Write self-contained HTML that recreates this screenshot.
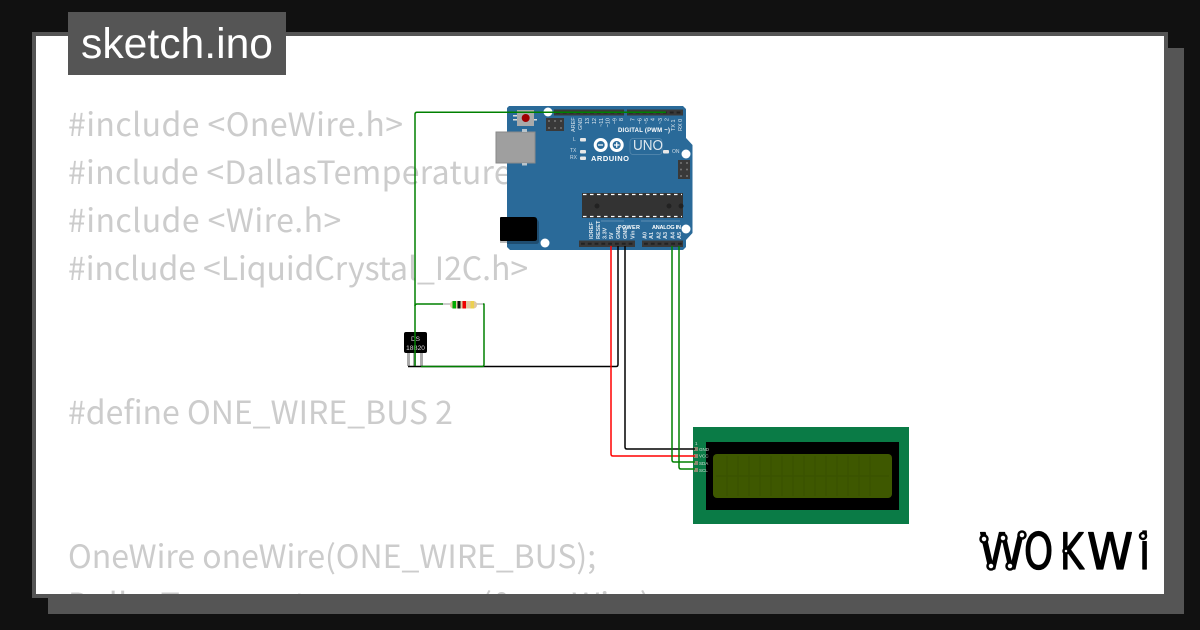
<!DOCTYPE html>
<html><head><meta charset="utf-8"><style>
html,body{margin:0;padding:0;width:1200px;height:630px;overflow:hidden;background:#111}
svg{position:absolute;left:0;top:0}
</style></head><body>
<svg width="1200" height="630" viewBox="0 0 1200 630" xmlns="http://www.w3.org/2000/svg">
<rect width="1200" height="630" fill="#111"/>
<rect x="48" y="48" width="1136" height="566" fill="#555"/>
<rect x="32" y="32" width="1136" height="566" fill="#555"/>
<svg x="36" y="36" width="1128" height="558" viewBox="36 36 1128 558">
<rect x="36" y="36" width="1128" height="558" fill="#fff"/>
<g font-family="'Noto Sans CJK JP','Liberation Sans',sans-serif" font-size="32" fill="#ccc">
<text x="68" y="136" letter-spacing=".43">#include &lt;OneWire.h&gt;</text>
<text x="68" y="184" letter-spacing=".3">#include &lt;DallasTemperature.h&gt;</text>
<text x="68" y="232" letter-spacing=".44">#include &lt;Wire.h&gt;</text>
<text x="68" y="280" letter-spacing="-.07">#include &lt;LiquidCrystal_I2C.h&gt;</text>
<text x="68" y="424">#define ONE_WIRE_BUS 2</text>
<text x="68" y="568" letter-spacing="-.03">OneWire oneWire(ONE_WIRE_BUS);</text>
<text x="68" y="616" letter-spacing=".38">DallasTemperature sensors(&amp;oneWire);</text>
</g>
</svg>
<rect x="68" y="12" width="218" height="63" fill="#555"/>
<text x="81" y="58" font-family="'Liberation Sans',sans-serif" font-size="43" fill="#fff" textLength="192" lengthAdjust="spacingAndGlyphs">sketch.ino</text>

<!-- Arduino -->
<path d="M509 106H683L686 109V138L692.500 145V233L686 240V247L683 250H510L507 247V108Z" fill="#2a6a99"/>
<rect x="496" y="132" width="39" height="31" fill="#9f9f9f" stroke="#8a8a8a" stroke-width="1"/>
<rect x="522" y="129" width="5" height="3" fill="#b8c4cc"/><rect x="522" y="163" width="5" height="2.500" fill="#b8c4cc"/>
<rect x="500" y="236" width="8" height="7" fill="#bbb"/>
<path d="M507 219H536Q539 220 539 223V241Q539 244 536 244H507Z" fill="#1f4d70"/>
<path d="M501 217H534Q537 217 537 220V239Q537 241 534 241H501Q500 241 500 240V218Q500 217 501 217Z" fill="#000"/>
<rect x="517" y="110" width="17" height="16" fill="#aaa"/>
<circle cx="525.700" cy="118" r="4" fill="#a00000"/>
<g fill="#ddd"><rect x="513" y="115" width="4" height="1.500"/><rect x="513" y="119" width="4" height="1.500"/><rect x="534" y="119" width="3" height="1.500"/></g>
<g fill="#393939">
<rect x="554" y="109.500" width="70" height="6"/><rect x="627" y="109.500" width="56" height="6"/>
<rect x="579" y="240.500" width="56" height="6.500"/><rect x="642" y="240.500" width="41" height="6.500"/>
<rect x="546" y="118" width="18" height="13"/><rect x="678" y="160" width="12" height="19"/>
</g>
<path d="M556 112.500H624M629 112.500H683M581 243.700H635M644 243.700H683" stroke="#222" stroke-width="2" stroke-dasharray="3.800 3"/>
<g fill="#777">
<circle cx="549" cy="121" r="1"/><circle cx="555" cy="121" r="1"/><circle cx="561" cy="121" r="1"/><circle cx="549" cy="128" r="1"/><circle cx="555" cy="128" r="1"/><circle cx="561" cy="128" r="1"/>
<circle cx="681" cy="163" r="1"/><circle cx="687" cy="163" r="1"/><circle cx="681" cy="169.500" r="1"/><circle cx="687" cy="169.500" r="1"/><circle cx="681" cy="176" r="1"/><circle cx="687" cy="176" r="1"/>
</g>
<g fill="#fff"><circle cx="548" cy="112" r="4.500"/><circle cx="686" cy="154" r="4.500"/><circle cx="686" cy="229" r="4.500"/><circle cx="545" cy="243" r="4.500"/></g>
<rect x="582" y="193" width="101" height="25" fill="#333"/>
<path d="M583 194.500H682M583 216.500H682" stroke="#fff" stroke-width="1.200" stroke-dasharray="3.500 3.500"/>
<circle cx="597" cy="206" r="2.500" fill="#222"/><circle cx="669" cy="206" r="2.500" fill="#222"/><circle cx="681" cy="206" r="2.500" fill="#222"/>
<g fill="none" stroke="#fff" stroke-width="3"><circle cx="600.700" cy="145" r="5.500"/><circle cx="616.700" cy="145" r="5.500"/></g>
<path d="M598 145h5M614 145h5.500M616.700 142.300v5.500" stroke="#fff" stroke-width="1.300"/>
<rect x="630" y="138.500" width="32" height="16" rx="3" fill="none" stroke="#5b8cb0" stroke-width=".7"/>
<g font-family="'Liberation Sans',sans-serif" fill="#fff">
<text x="591" y="161" font-size="7.500" font-weight="bold" textLength="38">ARDUINO</text>
<text x="633" y="150" font-size="15" fill="#dfe8ef" textLength="30" lengthAdjust="spacingAndGlyphs">UNO</text>
<text x="618" y="132" font-size="6" font-weight="bold" textLength="52">DIGITAL (PWM ~)</text>
<text x="618" y="229" font-size="5.500" font-weight="bold" textLength="22">POWER</text>
<text x="652" y="229" font-size="5.500" font-weight="bold" textLength="29">ANALOG IN</text>
</g>
<path d="M601 221H624M641 221H680" stroke="#8fb2cc" stroke-width=".6"/>
<g font-family="'Liberation Sans',sans-serif" fill="#cfdce6" font-size="5">
<text x="573" y="141">L</text><text x="570" y="152">TX</text><text x="570" y="159">RX</text><text x="672" y="153">ON</text>
</g>
<g fill="#e8e8e8"><rect x="580" y="138" width="6" height="3.500" rx="1"/><rect x="580" y="150" width="6" height="3.500" rx="1"/><rect x="580" y="156.500" width="6" height="3.500" rx="1"/><rect x="663" y="150" width="6" height="3.500" rx="1"/></g>
<g font-family="'Liberation Sans',sans-serif" font-size="5.500" fill="#dfe8ef" text-anchor="end">
<text transform="translate(575,118) rotate(-90)" style="text-anchor:start" x="-14">AREF</text>
<text transform="translate(582,118) rotate(-90)" style="text-anchor:start" x="-12">GND</text>
<text transform="translate(589,118) rotate(-90)">13</text>
<text transform="translate(596,118) rotate(-90)">12</text>
<text transform="translate(603,118) rotate(-90)">~11</text>
<text transform="translate(609.500,118) rotate(-90)">~10</text>
<text transform="translate(616.500,118) rotate(-90)">~9</text>
<text transform="translate(623,118) rotate(-90)">8</text>
<text transform="translate(634.500,118) rotate(-90)">7</text>
<text transform="translate(641.500,118) rotate(-90)">~6</text>
<text transform="translate(648,118) rotate(-90)">~5</text>
<text transform="translate(654.500,118) rotate(-90)">4</text>
<text transform="translate(662,118) rotate(-90)">~3</text>
<text transform="translate(668.500,118) rotate(-90)">2</text>
<text transform="translate(675,118) rotate(-90)" style="text-anchor:start" x="-13">TX 1</text>
<text transform="translate(682,118) rotate(-90)" style="text-anchor:start" x="-13">RX 0</text>
</g>
<g font-family="'Liberation Sans',sans-serif" font-size="5.500" fill="#dfe8ef" font-weight="bold">
<text transform="translate(593,239) rotate(-90)">IOREF</text>
<text transform="translate(600,239) rotate(-90)">RESET</text>
<text transform="translate(606.500,239) rotate(-90)">3.3V</text>
<text transform="translate(613,239) rotate(-90)">5V</text>
<text transform="translate(620,239) rotate(-90)">GND</text>
<text transform="translate(627,239) rotate(-90)">GND</text>
<text transform="translate(634.500,239) rotate(-90)">Vin</text>
<text transform="translate(646.500,239) rotate(-90)">A0</text>
<text transform="translate(653,239) rotate(-90)">A1</text>
<text transform="translate(660.500,239) rotate(-90)">A2</text>
<text transform="translate(667,239) rotate(-90)">A3</text>
<text transform="translate(674.500,239) rotate(-90)">A4</text>
<text transform="translate(681,239) rotate(-90)">A5</text>
</g>

<!-- LCD -->
<rect x="693" y="427" width="216" height="97" fill="#0a7b46"/>
<rect x="706" y="442" width="193" height="68" fill="#000"/>
<rect x="713" y="454" width="179" height="44" rx="4" fill="#3e5800"/>
<path d="M727 456V496M738 456V496M749 456V496M760 456V496M771 456V496M782 456V496M793 456V496M804 456V496M815 456V496M826 456V496M837 456V496M848 456V496M859 456V496M870 456V496M716 476H889" stroke="#3a5300" stroke-width="1.500"/>
<g fill="#8a8a70"><rect x="694" y="447" width="4" height="4"/><rect x="694" y="454" width="4" height="4"/><rect x="694" y="461" width="4" height="4"/><rect x="694" y="468" width="4" height="4"/></g>
<g font-family="'Liberation Sans',sans-serif" font-size="4.500" fill="#cfe0d5">
<text x="695" y="445">1</text><text x="699" y="451">GND</text><text x="699" y="457.500">VCC</text><text x="699" y="465">SDA</text><text x="699" y="472">SCL</text>
</g>

<!-- Sensor -->
<g fill="#aaa"><rect x="407" y="353" width="3" height="13"/><rect x="413" y="353" width="3" height="13"/><rect x="420" y="353" width="3" height="13"/></g>
<rect x="404" y="332" width="23" height="21" rx="2" fill="#000"/>
<g font-family="'Liberation Sans',sans-serif" font-size="6.500" fill="#ddd" text-anchor="middle"><text x="415.500" y="341">DS</text><text x="415.500" y="350">18B20</text></g>

<!-- Resistor -->
<path d="M443 304H483" stroke="#bbb" stroke-width="1.500"/>
<rect x="450" y="301" width="27" height="7.500" rx="3.500" fill="#e0c8a0"/>
<rect x="452.500" y="301" width="3.500" height="7.500" fill="#0a0"/><rect x="457.500" y="301" width="3" height="7.500" fill="#111"/><rect x="462.500" y="301" width="3.500" height="7.500" fill="#e00"/><rect x="470.500" y="301" width="3.500" height="7.500" fill="#ecd050"/>

<!-- Wires -->
<g fill="none" stroke-width="1.500" stroke-linejoin="round">
<path d="M408 366.500H616Q618 366.500 618 364.500V246" stroke="#000"/>
<path d="M625 246V447Q625 449 627 449H695" stroke="#000"/>
<path d="M611 246V454Q611 456 613 456H695" stroke="#f00"/>
<path d="M666 112.300H417Q415 112.300 415 114.300V366" stroke="#008000"/>
<path d="M415 306Q415 304 417 304H443M483 304H484V364.500Q484 366.500 482 366.500H421" stroke="#008000"/>
<path d="M672 246V460Q672 462 674 462H695" stroke="#008000"/>
<path d="M679 246V467Q679 469 681 469H695" stroke="#008000"/>
</g>

<!-- Logo -->
<g font-family="'DejaVu Sans',sans-serif" font-size="50" fill="#000" stroke="#000" stroke-width="1.300" stroke-linejoin="round">
<text transform="translate(979,569) scale(.93,1)">W</text>
<text transform="translate(1024,569) scale(.74,1)">O</text>
<text transform="translate(1060,569) scale(.72,1)">K</text>
<text transform="translate(1087,569) scale(.93,1)">W</text>
<text transform="translate(1139,569) scale(.8,1)">i</text>
</g>
<g fill="#fff" stroke="#000" stroke-width="2.500"><circle cx="984" cy="539" r="3.500"/><circle cx="1003" cy="538" r="3.500"/><circle cx="1022" cy="535" r="3.500"/><circle cx="991" cy="566" r="3.500"/><circle cx="1010" cy="566" r="3.500"/><circle cx="1066" cy="551" r="2.500"/><circle cx="1143" cy="536" r="3"/></g>
</svg>
</body></html>
